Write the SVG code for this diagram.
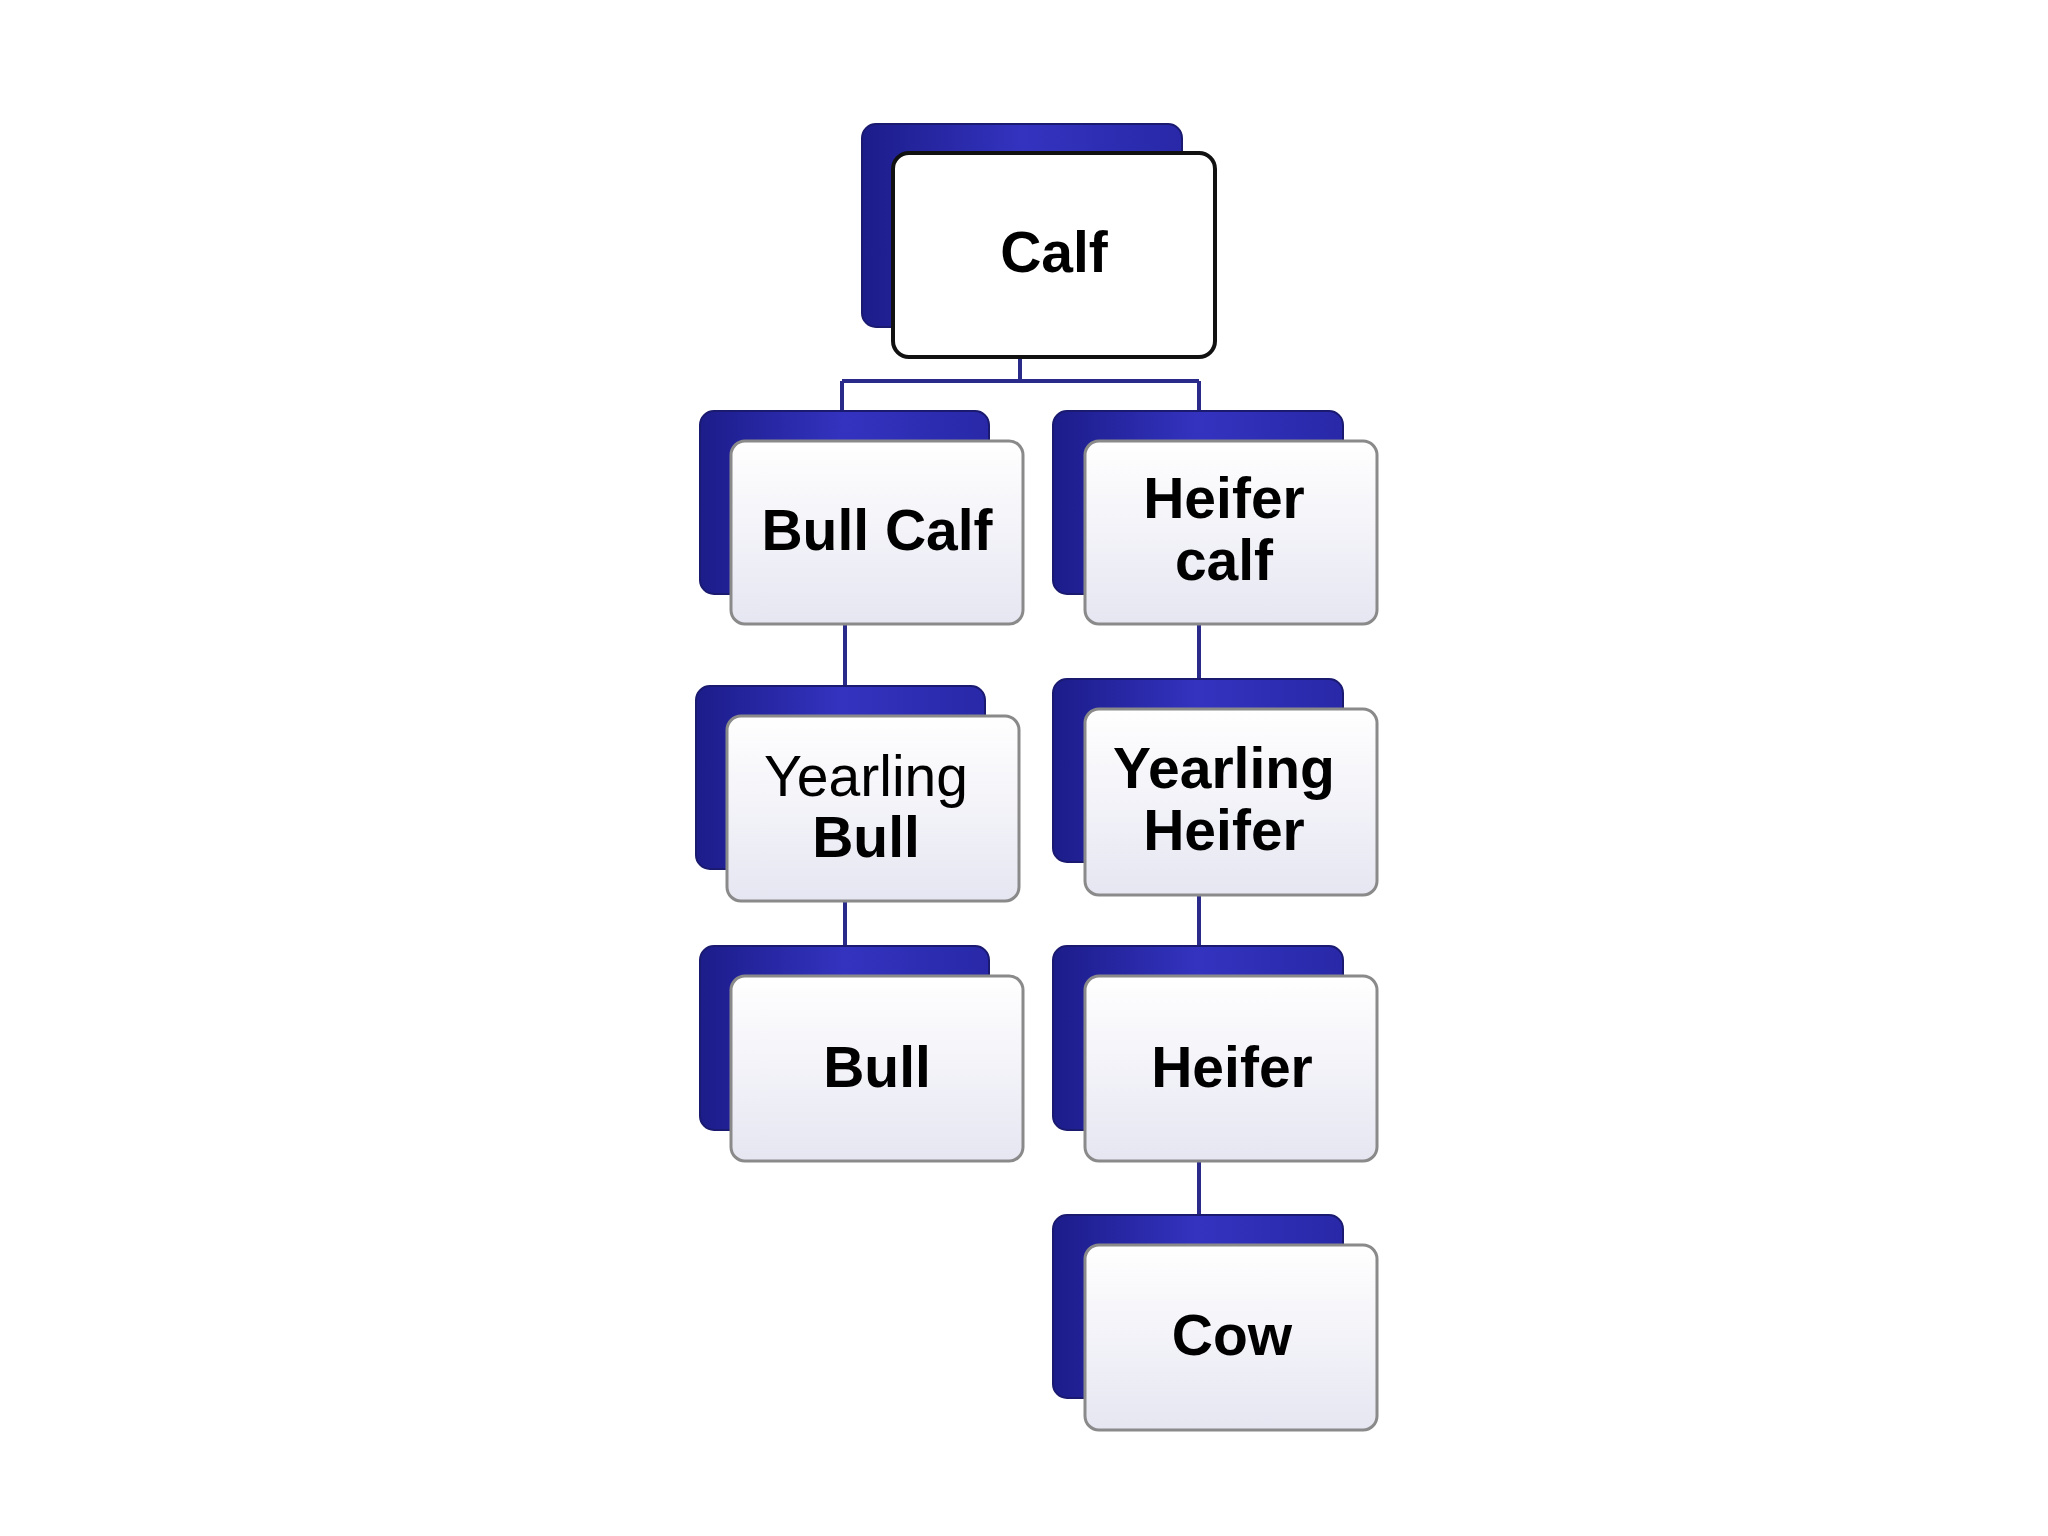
<svg xmlns="http://www.w3.org/2000/svg" width="2048" height="1536" viewBox="0 0 2048 1536">
<style>
.back{fill:url(#bg);stroke:#1a1a70;stroke-width:2}
.front{fill:url(#fg);stroke:#8a8a8a;stroke-width:3}
.t{font-family:"Liberation Sans",Arial,sans-serif;font-weight:bold;font-size:57px;fill:#000;text-anchor:middle}
.n{font-weight:normal}
.c{fill:none;stroke:#2a2a8a;stroke-width:4}
</style>
<defs>
<linearGradient id="bg" x1="0" y1="0" x2="1" y2="0"><stop offset="0" stop-color="#1c1c8a"/><stop offset="0.5" stop-color="#3333c0"/><stop offset="1" stop-color="#2828a8"/></linearGradient>
<linearGradient id="fg" x1="0" y1="0" x2="0" y2="1"><stop offset="0" stop-color="#ffffff"/><stop offset="1" stop-color="#e6e6f2"/></linearGradient>
</defs>
<rect width="2048" height="1536" fill="#fff"/>
<g id="connectors">
<path class="c" d="M1020 357V381M842 381H1199M842 381V441M1199 381V441M845 624V716M845 901V976M1199 624V709M1199 895V976M1199 1161V1245"/>
</g>
<g id="calf"><rect class="back" x="862" y="124" width="320" height="203" rx="14"/><rect x="893" y="153" width="322" height="204" rx="16" fill="#fff" stroke="#111" stroke-width="4"/><text class="t" x="1054" y="272">Calf</text></g>
<g id="bullcalf"><rect class="back" x="700" y="411" width="289" height="183" rx="14"/><rect class="front" x="731" y="441" width="292" height="183" rx="14"/><text class="t" x="877" y="550">Bull Calf</text></g>
<g id="heifercalf"><rect class="back" x="1053" y="411" width="290" height="183" rx="14"/><rect class="front" x="1085" y="441" width="292" height="183" rx="14"/><text class="t" x="1224" y="518">Heifer</text><text class="t" x="1224" y="580">calf</text></g>
<g id="yearlingbull"><rect class="back" x="696" y="686" width="289" height="183" rx="14"/><rect class="front" x="727" y="716" width="292" height="185" rx="14"/><text class="t n" x="866" y="796">Yearling</text><text class="t" x="866" y="857">Bull</text></g>
<g id="yearlingheifer"><rect class="back" x="1053" y="679" width="290" height="183" rx="14"/><rect class="front" x="1085" y="709" width="292" height="186" rx="14"/><text class="t" x="1224" y="788">Yearling</text><text class="t" x="1224" y="850">Heifer</text></g>
<g id="bull"><rect class="back" x="700" y="946" width="289" height="184" rx="14"/><rect class="front" x="731" y="976" width="292" height="185" rx="14"/><text class="t" x="877" y="1087">Bull</text></g>
<g id="heifer"><rect class="back" x="1053" y="946" width="290" height="184" rx="14"/><rect class="front" x="1085" y="976" width="292" height="185" rx="14"/><text class="t" x="1232" y="1087">Heifer</text></g>
<g id="cow"><rect class="back" x="1053" y="1215" width="290" height="183" rx="14"/><rect class="front" x="1085" y="1245" width="292" height="185" rx="14"/><text class="t" x="1232" y="1355">Cow</text></g>
</svg>
